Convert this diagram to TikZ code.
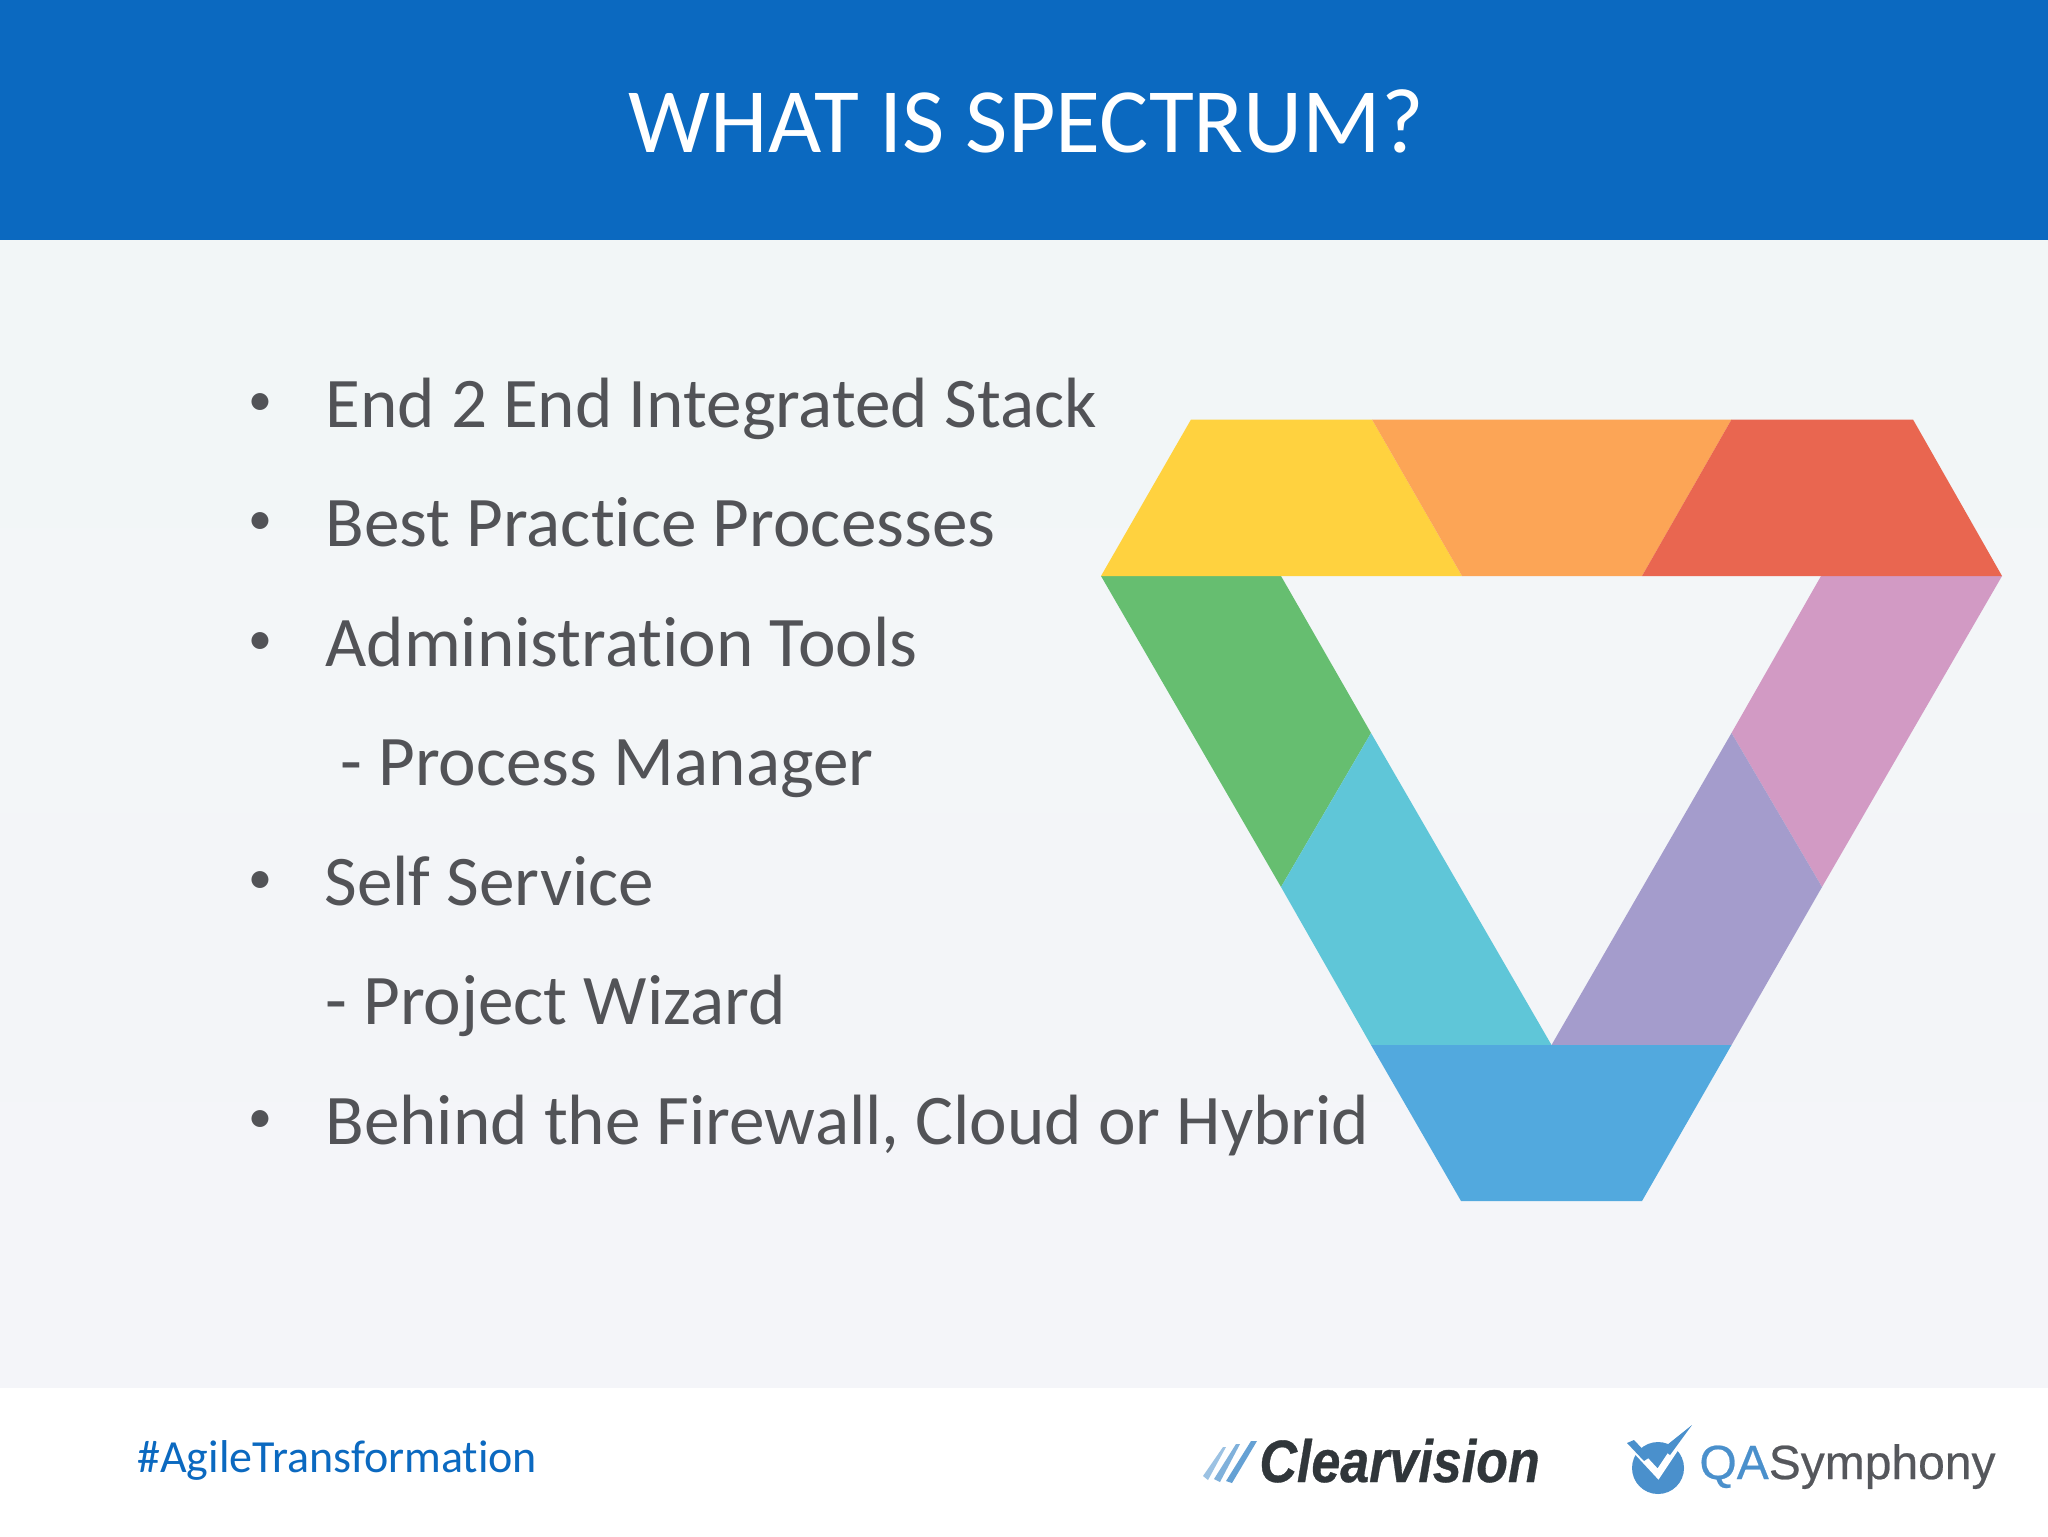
\documentclass[tikz,border=0pt]{standalone}
\usepackage{fontspec}
\setmainfont{Carlito}[Ligatures=NoCommon]
\newfontfamily\logofont{Liberation Sans}
\newfontfamily\logoboldfont{Liberation Sans}[BoldItalicFeatures={FakeBold=0.6}]
\newfontfamily\logomedfont{Liberation Sans}[FakeBold=0.5]
\usetikzlibrary{calc}
\definecolor{hdr}{HTML}{0B69C0}
\definecolor{bgtop}{HTML}{F2F6F7}
\definecolor{bgbot}{HTML}{F4F5F9}
\definecolor{txt}{HTML}{525357}
\definecolor{cyellow}{HTML}{FFD23F}
\definecolor{corange}{HTML}{FCA556}
\definecolor{cred}{HTML}{E96650}
\definecolor{cgreen}{HTML}{66BE70}
\definecolor{cteal}{HTML}{5FC6D8}
\definecolor{cpink}{HTML}{D29AC4}
\definecolor{cviolet}{HTML}{A49CCC}
\definecolor{cblue}{HTML}{52A9DE}
\definecolor{logodark}{HTML}{30363A}
\definecolor{logoblue}{HTML}{4A90CC}
\definecolor{logogrey}{HTML}{55575C}
\tikzset{
  bodytext/.style={anchor=base west,inner sep=0pt,text=txt,font=\fontsize{35.6}{36}\selectfont},
  bulletmark/.style={anchor=base,inner sep=0pt,text=txt,font=\fontsize{24}{24}\selectfont},
  band/.style={draw=none},
}
\begin{document}
\begin{tikzpicture}[x=0.5pt,y=-0.5pt]
\useasboundingbox (0,0) rectangle (2048,1536);
\fill[white] (0,0) rectangle (2048,1536);
\shade[top color=bgtop,bottom color=bgbot] (0,240) rectangle (2048,1387);
\fill[hdr] (0,0) rectangle (2048,240);
\node[anchor=base,inner sep=0pt,text=white,font=\fontsize{46}{46}\selectfont] (title) at (1026.5,152) {WHAT IS SPECTRUM?};
% bullets
\node[bulletmark] (b1) at (260,415) {•};
\node[bodytext] (t1) at (325,427) {End 2 End Integrated Stack};
\node[bulletmark] (b2) at (260,534.5) {•};
\node[bodytext] (t2) at (325,546.5) {Best Practice Processes};
\node[bulletmark] (b3) at (260,654) {•};
\node[bodytext] (t3) at (325,666) {Administration Tools};
\node[bodytext] (t4) at (340,785.5) {- Process Manager};
\node[bulletmark] (b5) at (260,893) {•};
\node[bodytext] (t5) at (324,905) {Self Service};
\node[bodytext] (t6) at (325,1024.5) {- Project Wizard};
\node[bulletmark] (b7) at (260,1132) {•};
\node[bodytext] (t7) at (325,1144) {Behind the Firewall, Cloud or Hybrid};
% triangle
\fill[cgreen,band] (1101,576) -- (1281,576) -- (1371,733) -- (1281,887) -- cycle;
\fill[cteal,band] (1371,733) -- (1551.5,1045) -- (1371,1045) -- (1281,887) -- cycle;
\fill[cpink,band] (1821,576) -- (2002,576) -- (1822,887) -- (1731.5,733) -- cycle;
\fill[cviolet,band] (1731.5,733) -- (1822,887) -- (1731.5,1045) -- (1551.5,1045) -- cycle;
\fill[cblue,band] (1371,1045) -- (1731.5,1045) -- (1642,1201) -- (1461,1201) -- cycle;
\fill[cyellow,band] (1191,419.5) -- (1372,419.5) -- (1462,576) -- (1101,576) -- cycle;
\fill[corange,band] (1372,419.5) -- (1731.5,419.5) -- (1642,576) -- (1462,576) -- cycle;
\fill[cred,band] (1731.5,419.5) -- (1913,419.5) -- (2002,576) -- (1642,576) -- cycle;
% footer
\node[anchor=base west,inner sep=0pt,text=hdr,font=\fontsize{23}{23}\selectfont] (tag) at (137,1472) {\#AgileTransformation};
% Clearvision logo
\fill[logoblue!55] (1203,1476) -- (1223,1447) -- (1226,1447) -- (1208,1480) -- cycle;
\fill[logoblue!70] (1214,1479) -- (1236,1444) -- (1240,1444) -- (1220,1482) -- cycle;
\fill[logoblue!85] (1226,1481) -- (1251,1441) -- (1257,1441) -- (1232,1483) -- cycle;
\node[anchor=base west,inner sep=0pt,text=logodark,yscale=1.15,transform shape,font=\logoboldfont\bfseries\itshape\fontsize{26}{26}\selectfont] (clear) at (1259,1482) {Clearvision};
% QASymphony logo
\fill[logoblue] (1658,1468) ellipse (26 and 26);
\draw[white,line width=3.5pt,line join=miter] (1632,1446) -- (1658,1474) -- (1682,1438);
\fill[logoblue] (1627,1443) -- (1634,1440) -- (1650,1457) -- (1644,1461) -- cycle;
\fill[logoblue] (1692,1425) -- (1670,1455) -- (1662,1449) -- cycle;
\node[anchor=base west,inner sep=0pt,font=\logomedfont\fontsize{24}{24}\selectfont] (qas) at (1699,1479) {\textcolor{logoblue}{QA}\textcolor{logogrey}{Symphony}};
\end{tikzpicture}
\end{document}
